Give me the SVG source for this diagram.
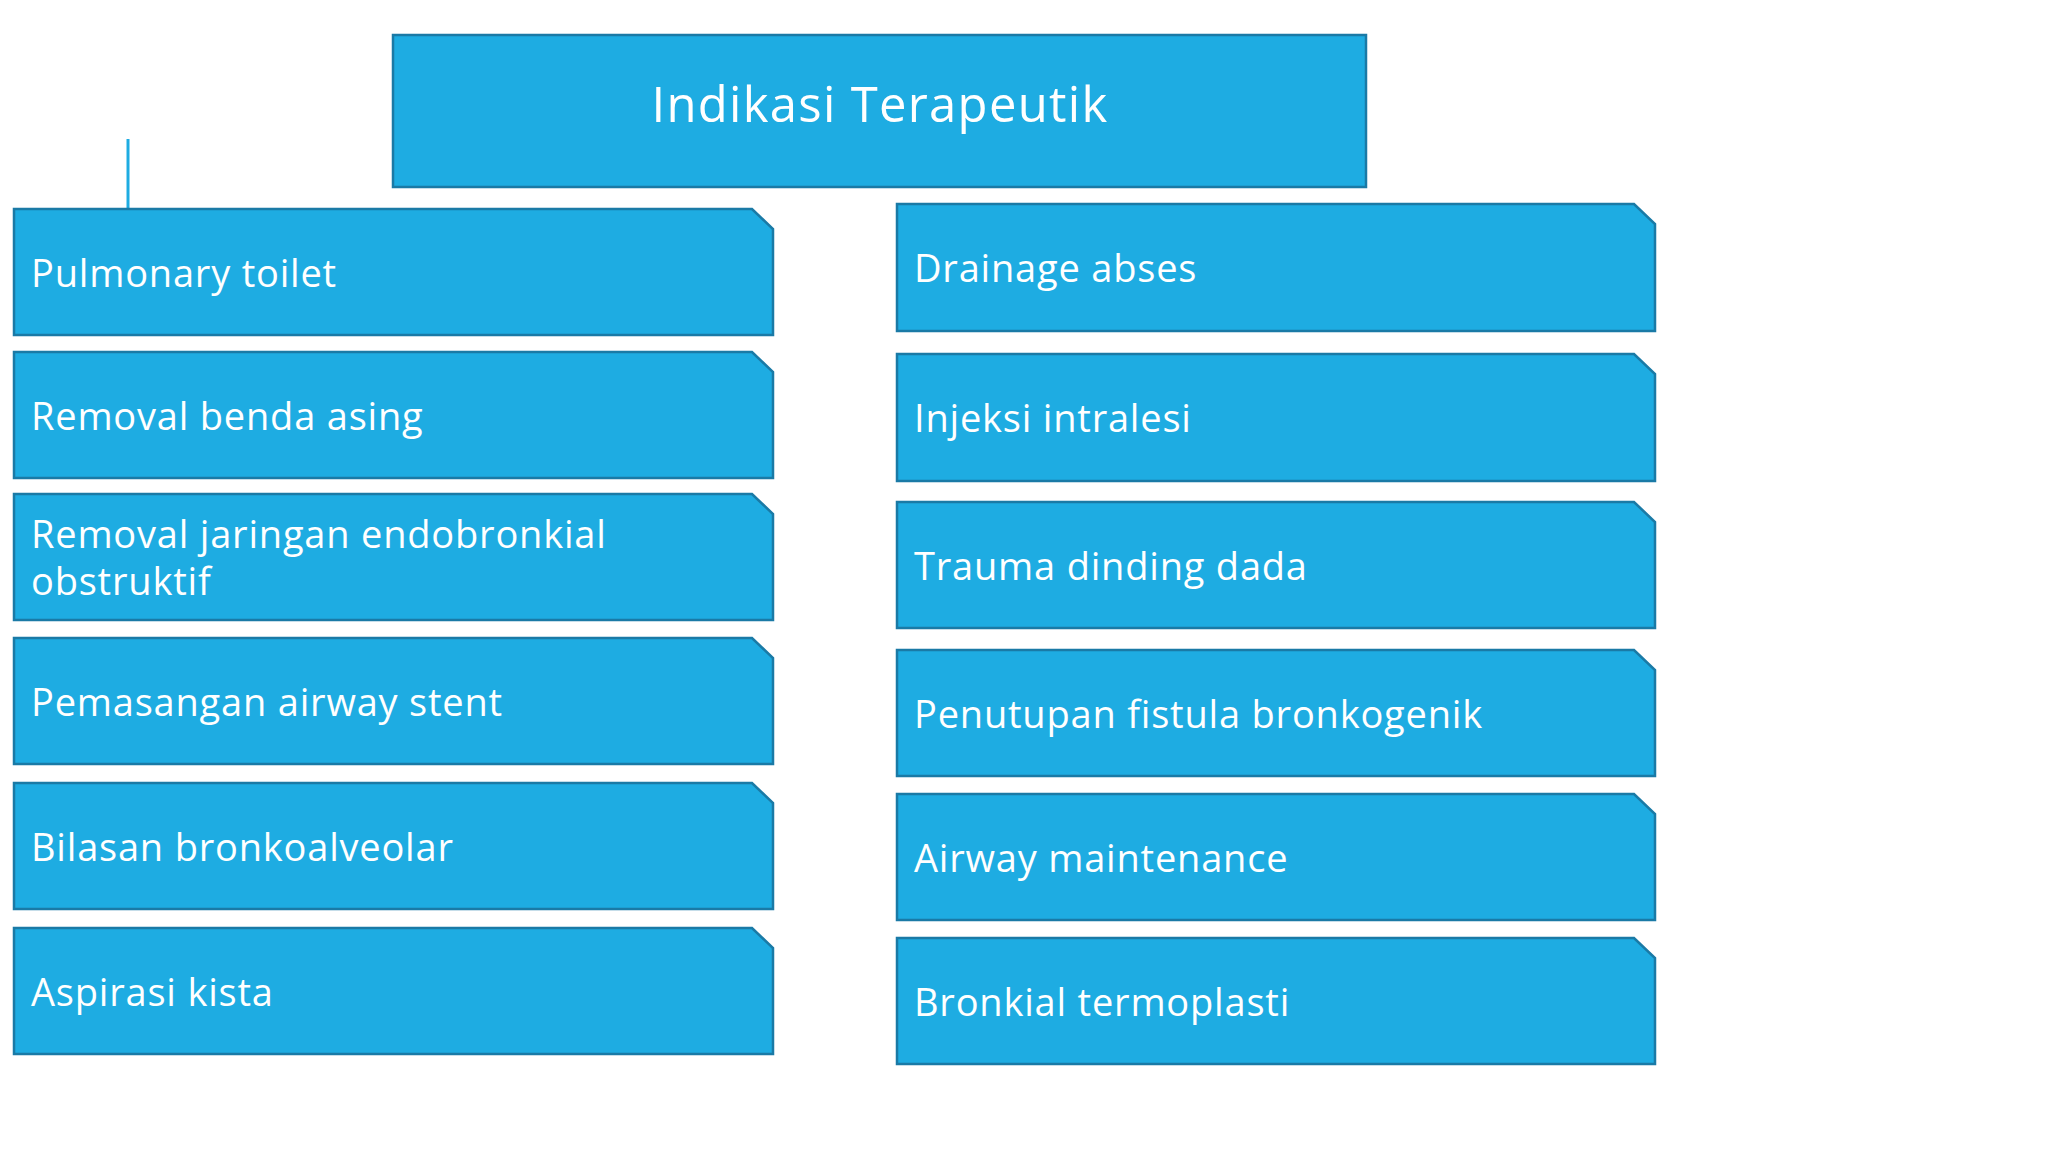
<svg xmlns="http://www.w3.org/2000/svg" width="2048" height="1152" viewBox="0 0 2048 1152">
<style>
.box{fill:#1eace2;stroke:#1a7aa6;stroke-width:2.5}
.t{font-family:"Open Sans","Noto Sans","Liberation Sans",sans-serif;fill:#ffffff;font-size:38px;letter-spacing:0.8px}
.title{font-family:"Open Sans","Noto Sans","Liberation Sans",sans-serif;fill:#ffffff;font-size:49px;letter-spacing:1.3px;text-anchor:middle}
.conn{stroke:#1eace2;stroke-width:3;fill:none}
</style>
<rect width="2048" height="1152" fill="#ffffff"/>
<g id="connectors">
<line class="conn" x1="128" y1="139" x2="128" y2="209"/>
</g>
<g id="title">
<rect class="box" x="393" y="35" width="973" height="152"/>
<text class="title" x="880" y="122">Indikasi Terapeutik</text>
</g>
<g id="n-pulmonary">
<path class="box" d="M14,209 H752 L773,229 V335 H14 Z"/>
<text class="t" x="31" y="287">Pulmonary toilet</text>
</g>
<g id="n-removal-benda">
<path class="box" d="M14,352 H752 L773,372 V478 H14 Z"/>
<text class="t" x="31" y="430">Removal benda asing</text>
</g>
<g id="n-removal-jaringan">
<path class="box" d="M14,494 H752 L773,514 V620 H14 Z"/>
<text class="t" x="31" y="548">Removal jaringan endobronkial</text>
<text class="t" x="31" y="595">obstruktif</text>
</g>
<g id="n-stent">
<path class="box" d="M14,638 H752 L773,658 V764 H14 Z"/>
<text class="t" x="31" y="716">Pemasangan airway stent</text>
</g>
<g id="n-bilasan">
<path class="box" d="M14,783 H752 L773,803 V909 H14 Z"/>
<text class="t" x="31" y="861">Bilasan bronkoalveolar</text>
</g>
<g id="n-aspirasi">
<path class="box" d="M14,928 H752 L773,948 V1054 H14 Z"/>
<text class="t" x="31" y="1006">Aspirasi kista</text>
</g>
<g id="n-drainage">
<path class="box" d="M897,204 H1634 L1655,224 V331 H897 Z"/>
<text class="t" x="914" y="282">Drainage abses</text>
</g>
<g id="n-injeksi">
<path class="box" d="M897,354 H1634 L1655,374 V481 H897 Z"/>
<text class="t" x="914" y="432">Injeksi intralesi</text>
</g>
<g id="n-trauma">
<path class="box" d="M897,502 H1634 L1655,522 V628 H897 Z"/>
<text class="t" x="914" y="580">Trauma dinding dada</text>
</g>
<g id="n-fistula">
<path class="box" d="M897,650 H1634 L1655,670 V776 H897 Z"/>
<text class="t" x="914" y="728">Penutupan fistula bronkogenik</text>
</g>
<g id="n-airway">
<path class="box" d="M897,794 H1634 L1655,814 V920 H897 Z"/>
<text class="t" x="914" y="872">Airway maintenance</text>
</g>
<g id="n-termoplasti">
<path class="box" d="M897,938 H1634 L1655,958 V1064 H897 Z"/>
<text class="t" x="914" y="1016">Bronkial termoplasti</text>
</g>
</svg>
